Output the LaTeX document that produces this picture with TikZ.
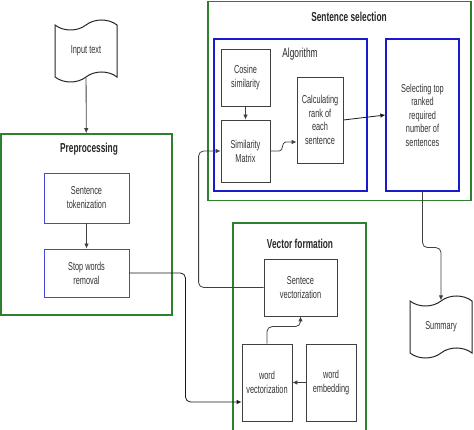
\documentclass[tikz,border=0pt]{standalone}
\usepackage{fontspec}
\setmainfont{Liberation Sans}[FakeStretch=0.64]
\usetikzlibrary{shapes.symbols,arrows.meta}

\definecolor{grpgreen}{RGB}{46,128,46}
\definecolor{blkblue}{RGB}{25,25,205}

\begin{document}
\begin{tikzpicture}[x=1pt,y=-1pt,
		txt/.style={text=black!80, align=center, font=\fontsize{11.5}{14}\selectfont},
		grp/.style={draw=grpgreen, line width=1.7pt},
		blk/.style={draw=blkblue, line width=1.2pt, txt},
		cell/.style={draw=black!75, line width=0.8pt, txt},
		doc/.style={tape, draw=black!85, line width=1pt, tape bend height=10pt, txt},
		title/.style={text=black!85, font=\fontsize{13}{15}\selectfont\bfseries},
		conn/.style={draw=black!75, line width=0.8pt, -{Latex[length=5pt,width=4.5pt]}}]
		\useasboundingbox (0,0) rectangle (474,430);
		\clip (0,0) rectangle (474,430);

		% group frames
		\node[grp, minimum width=171, minimum height=181] (pre) at (86.5,224.5) {};
		\node[grp, minimum width=263, minimum height=199] (sel) at (339.5,101) {};
		\node[grp, minimum width=133, minimum height=214] (vec) at (299.5,330) {};
		\node[title] at (89,149) {Preprocessing};
		\node[title] at (349,17) {Sentence selection};
		\node[title] at (300,244) {Vector formation};

		% input and output
		\node[doc, minimum width=62, minimum height=62] (input) at (86,51) {Input text};
		\node[doc, minimum width=62, minimum height=62] (summ) at (441,327) {Summary};

		% preprocessing
		\node[blk, draw=blkblue!80, line width=0.9pt, minimum width=85, minimum height=50] (tok) at (86.5,198) {Sentence\\tokenization};
		\node[blk, draw=blkblue!80, line width=0.9pt, minimum width=85, minimum height=48] (stop) at (86.5,273) {Stop words\\removal};

		% sentence selection
		\node[blk, minimum width=153, minimum height=152] (algo) at (290.5,115) {};
		\node[text=black!85, font=\fontsize{13}{15}\selectfont] at (300,54) {Algorithm};
		\node[cell, minimum width=49, minimum height=57] (cos) at (245.5,77.5) {Cosine\\similarity};
		\node[cell, minimum width=49, minimum height=62] (simm) at (245.5,151) {Similarity\\Matrix};
		\node[cell, minimum width=46, minimum height=86, font=\fontsize{11.5}{13.5}\selectfont] (calc) at (320,120) {Calculating\\rank of\\each\\sentence};
		\node[blk, minimum width=73, minimum height=152, font=\fontsize{11.5}{13.5}\selectfont] (top) at (422.5,115) {Selecting top\\ranked\\required\\number of\\sentences};

		% vector formation
		\node[cell, minimum width=73, minimum height=57] (svec) at (300.5,287.5) {Sentece\\vectorization};
		\node[cell, minimum width=50, minimum height=77] (wvec) at (267,382.5) {word\\vectorization};
		\node[cell, minimum width=50, minimum height=77] (wemb) at (331,382.5) {word\\embedding};

		% connectors
		\draw[conn] (input) -- (pre);
		\draw[conn] (tok) -- (stop);
		\draw[conn, draw=black!90, rounded corners=5] (stop.east) -- ++(56,0) |- ([yshift=-19.5pt]wvec.west);
		\draw[conn] (cos) -- (simm);
		\draw[conn] (simm.east) -- ++(9,0) to[out=0,in=180] ([xshift=-11pt,yshift=-22pt]calc.west) -- ([yshift=-22pt]calc.west);
		\draw[conn, draw=black!90] (calc.east) -- (top.west);
		\draw[conn, rounded corners=5] (top.south) -- ++(0,56) -| (summ.north);
		\draw[conn, rounded corners=5] (svec.west) -- ++(-65,0) |- (simm.west);
		\draw[conn, rounded corners=5] (wvec.north) -- ++(0,-17) -| (svec.south);
		\draw[conn] (wemb) -- (wvec);
	\end{tikzpicture}
\end{document}
